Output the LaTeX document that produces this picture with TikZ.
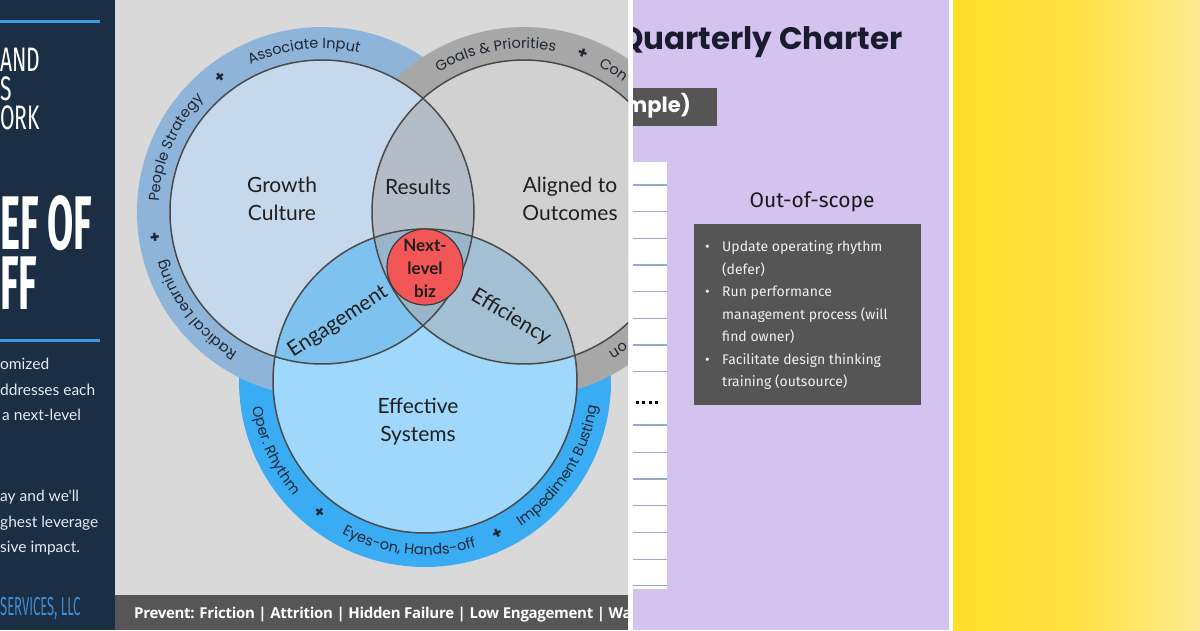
\documentclass[tikz,border=0pt]{standalone}
\usepackage{fontspec}
\usetikzlibrary{decorations.text}
\setmainfont{Lato}
\newfontfamily\latofont{Lato}
\newfontfamily\ringfont{Poppins}
\newfontfamily\popfont{Poppins}
\newfontfamily\osfont{Open Sans}
\newfontfamily\condA{Fira Sans}[FakeStretch=0.62]
\newfontfamily\condB{Fira Sans}[FakeStretch=0.5]
\newfontfamily\handfont{Fira Sans}
\definecolor{navy}{HTML}{1C2E44}
\definecolor{lineblue}{HTML}{3A9BE0}
\definecolor{paneltxt}{HTML}{E4EAF1}
\definecolor{svcblue}{HTML}{3C8FD5}
\definecolor{vbg}{HTML}{D9D9D9}
\definecolor{ringA}{HTML}{8EB4DA}
\definecolor{inA}{HTML}{C6D9EC}
\definecolor{ringB}{HTML}{A7A7A7}
\definecolor{inB}{HTML}{D1D1D1}
\definecolor{ringC}{HTML}{39ACF3}
\definecolor{inC}{HTML}{9FD8FA}
\definecolor{iAB}{HTML}{B4BDC7}
\definecolor{iAC}{HTML}{7EC2F0}
\definecolor{iBC}{HTML}{A3C0D4}
\definecolor{iABC}{HTML}{99B5CA}
\definecolor{outl}{HTML}{4A4A4A}
\definecolor{redc}{HTML}{F25656}
\definecolor{vtxt}{HTML}{1F1F1F}
\definecolor{ringtxt}{HTML}{1F2633}
\definecolor{bar}{HTML}{565656}
\definecolor{purp}{HTML}{D3C3EE}
\definecolor{titletxt}{HTML}{1B1B2F}
\definecolor{boxgray}{HTML}{555555}
\definecolor{paperline}{HTML}{98A9C9}
\definecolor{ylA}{HTML}{FFDE2A}
\definecolor{ylB}{HTML}{FDEB90}
\newcommand{\myfs}[1]{\fontsize{#1}{#1}\selectfont}
\newcommand{\arctext}[6]{\path[decorate,decoration={text along path,text color=ringtxt,text align=#5,text={|\ringfont\fontsize{14.5}{16}\selectfont|#6}}] ([shift={(#2:#4)}]#1) arc[start angle=#2,end angle=#3,radius=#4];}
\newcommand{\arcplus}[5]{\path[decorate,decoration={text along path,text color=ringtxt,text align=center,text={|\ringfont\bfseries\fontsize{16}{16}\selectfont|+}}] ([shift={(#2:#4)}]#1) arc[start angle=#2,end angle=#3,radius=#4];}
\tikzset{
  vtext/.style={inner sep=0pt,text=vtxt,align=center,font=\latofont\fontsize{21}{28}\selectfont},
  navytext/.style={anchor=base west,inner sep=0pt,text=paneltxt,font=\latofont\myfs{15.5}},
  inoutline/.style={draw=outl,line width=1.5pt},
  boxtext/.style={anchor=base west,inner sep=0pt,text=white!94!black,font=\handfont\myfs{14}},
  paper/.style={draw=paperline,line width=1.2pt}
}
\begin{document}
\begin{tikzpicture}[x=1pt,y=1pt]
\useasboundingbox (0,0) rectangle (1200,630);
\fill[white] (0,0) rectangle (1200,630);
% ---------------- left navy panel
\begin{scope}
\clip (0,0) rectangle (115,630);
\fill[navy] (0,0) rectangle (115,630);
\coordinate (la) at (0,608); \coordinate (lb) at (100,608);
\draw[lineblue,line width=3pt] (la) -- (lb);
\coordinate (lc) at (0,289); \coordinate (ld) at (100,289);
\draw[lineblue,line width=3pt] (lc) -- (ld);
\node[anchor=base west,inner sep=0pt,text=white,font=\condA\myfs{34}] (nand) at (0,558) {AND};
\node[anchor=base west,inner sep=0pt,text=white,font=\condA\myfs{34}] (ns) at (0,529) {S};
\node[anchor=base west,inner sep=0pt,text=white,font=\condA\myfs{34}] (nork) at (0,500) {ORK};
\node[anchor=base west,inner sep=0pt,text=white,font=\condB\bfseries\myfs{76}] (nef) at (0,380) {EF OF};
\node[anchor=base west,inner sep=0pt,text=white,font=\condB\bfseries\myfs{76}] (nff) at (0,320) {FF};
\node[navytext] (p1) at (0,260) {omized};
\node[navytext] (p2) at (0,234) {ddresses each};
\node[navytext] (p3) at (2,209) {a next-level};
\node[navytext] (p4) at (0,129) {ay and we'll};
\node[navytext] (p5) at (0,103) {ghest leverage};
\node[navytext] (p6) at (0,78) {sive impact.};
\node[anchor=base west,inner sep=0pt,text=svcblue,font=\condB\myfs{26}] (svc) at (0,15) {SERVICES, LLC};
\end{scope}
% ---------------- Venn panel
\begin{scope}
\clip (115,0) rectangle (628,630);
\fill[vbg] (115,0) rectangle (628,630);
\coordinate (c1) at (322,418);
\coordinate (c2) at (524,418);
\coordinate (c3) at (425,249);
\coordinate (cr) at (425,363);
\fill[ringC] (c3) circle (186);
\fill[ringA] (c1) circle (185);
\fill[ringB] (c2) circle (185);
\fill[inA] (c1) circle (152);
\fill[inB] (c2) circle (152);
\fill[inC] (c3) circle (152);
\begin{scope}
\clip (c1) circle (152);
\fill[iAB] (c2) circle (152);
\fill[iAC] (c3) circle (152);
\end{scope}
\begin{scope}
\clip (c2) circle (152);
\fill[iBC] (c3) circle (152);
\end{scope}
\begin{scope}
\clip (c1) circle (152);
\clip (c2) circle (152);
\fill[iABC] (c3) circle (152);
\end{scope}
\draw[inoutline] (c1) circle (152);
\draw[inoutline] (c2) circle (152);
\draw[inoutline] (c3) circle (152);
\draw[fill=redc,draw=outl!80!black,line width=1.2pt] (cr) circle (38);
% ring texts
\arctext{c1}{262.8}{172.8}{163.5}{center}{Radical Learning}
\arcplus{c1}{233.5}{143.5}{163.5}{}
\arctext{c1}{201.3}{111.3}{163.5}{center}{People Strategy}
\arcplus{c1}{171.9}{81.9}{163.5}{}
\arctext{c1}{141.4}{51.4}{163.5}{center}{Associate Input}
\arctext{c2}{145.2}{55.2}{163.5}{center}{Goals {\&} Priorities}
\arcplus{c2}{114.7}{24.7}{163.5}{}
\arctext{c2}{63}{13}{163.5}{left}{Con}
\arctext{c2}{0}{-59}{163.5}{right}{on}
\arctext{c3}{160}{250}{174}{center}{Oper. Rhythm}
\arcplus{c3}{186.4}{276.4}{174}{}
\arctext{c3}{219.3}{309.3}{174}{center}{Eyes-on, Hands-off}
\arcplus{c3}{250.3}{340.3}{174}{}
\arctext{c3}{282.6}{372.6}{174}{center}{Impediment Busting}
% region labels
\node[vtext] (growth) at (282,431) {Growth\\Culture};
\node[vtext] (results) at (418,443) {Results};
\node[vtext] (aligned) at (570,431) {Aligned to\\Outcomes};
\node[vtext] (effective) at (418,208) {Effective\\Systems};
\node[vtext,rotate=33] (engage) at (338,308) {Engagement};
\node[vtext,rotate=-31] (effic) at (511,313) {Efficiency};
\node[inner sep=0pt,align=center,text=vtxt,font=\latofont\bfseries\fontsize{17}{23}\selectfont] (nlb) at (425,362) {Next-\\level\\biz};
% bottom bar
\fill[bar] (115,0) rectangle (628,35);
\node[anchor=base west,inner sep=0pt,text=white,font=\osfont\bfseries\myfs{15}\addfontfeature{LetterSpace=-2}] (prevent) at (134,11.5) {Prevent: Friction | Attrition | Hidden Failure | Low Engagement | Wa};
\end{scope}
% ---------------- purple panel
\begin{scope}
\clip (633,0) rectangle (949,630);
\fill[purp] (633,0) rectangle (949,630);
\node[anchor=base east,inner sep=0pt,text=titletxt,font=\popfont\bfseries\myfs{31}] (title) at (903,580) {Quarterly Charter};
\fill[boxgray] (620,504) rectangle (717,542);
\node[anchor=base east,inner sep=0pt,text=white,font=\popfont\bfseries\myfs{21}] (example) at (691,517) {(Example)};
\fill[white] (633,41) rectangle (667,468);
\foreach \yy in {185,211.7,238.3,265,291.7,318.3,345,371.7,425,452.3,479,505.7,532.3,559.3,585.7}{
  \draw[paper] (633,630-\yy) -- (667,630-\yy);
}
\coordinate (dA) at (635.5,227); \coordinate (dB) at (660,227);
\draw[black,line width=3pt,dash pattern=on 3pt off 3.6pt] (dA) -- (dB);
\node[inner sep=0pt,text=black!90,font=\handfont\myfs{21}] (oos) at (812,428) {Out-of-scope};
\fill[boxgray] (694,225) rectangle (921,406);
\node[boxtext] (b1) at (705,378) {•};
\node[boxtext] (l1) at (722,378) {Update operating rhythm};
\node[boxtext] (l2) at (722,355.5) {(defer)};
\node[boxtext] (b2) at (705,333) {•};
\node[boxtext] (l3) at (722,333) {Run performance};
\node[boxtext] (l4) at (722,310.5) {management process (will};
\node[boxtext] (l5) at (722,288) {find owner)};
\node[boxtext] (b3) at (705,265.5) {•};
\node[boxtext] (l6) at (722,265.5) {Facilitate design thinking};
\node[boxtext] (l7) at (722,243) {training (outsource)};
\end{scope}
% ---------------- yellow panel
\shade[left color=ylA,right color=ylB,middle color=ylA!75!ylB] (953,0) rectangle (1200,630);
\end{tikzpicture}
\end{document}
